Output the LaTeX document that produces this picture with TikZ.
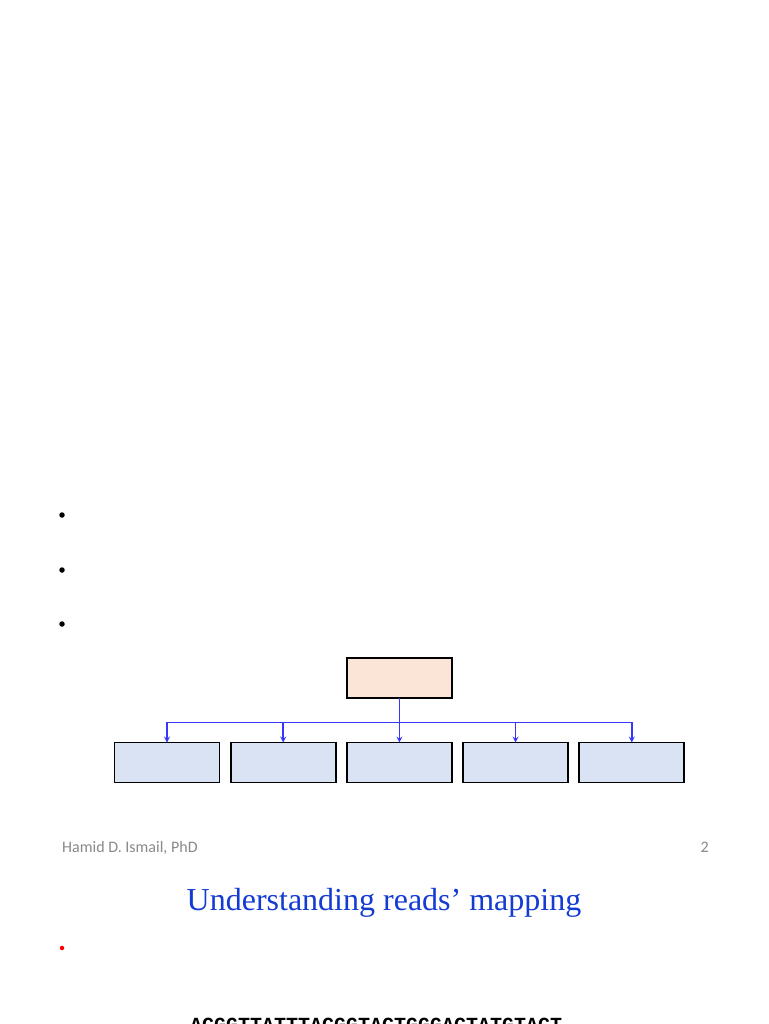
\documentclass[tikz,border=0pt]{standalone}
\usepackage{fontspec}
\setmainfont{Liberation Serif}
\newfontfamily\footfont{Carlito}
\newfontfamily\seqfont{Liberation Mono}
\usepackage{tikz}
\usetikzlibrary{positioning}

\definecolor{topfill}{RGB}{251,229,214}
\definecolor{subfill}{RGB}{218,227,243}
\definecolor{linkblue}{RGB}{55,55,250}
\definecolor{titleblue}{RGB}{20,60,210}
\definecolor{footgray}{RGB}{137,137,137}

\begin{document}
\begin{tikzpicture}[x=1pt,y=-1pt,node distance=10pt,>=stealth]
	\tikzstyle{box}=[rectangle,draw=black,line width=1.7pt,minimum width=105pt,minimum height=40pt,inner sep=0pt,outer sep=0pt]
	\tikzstyle{link}=[draw=linkblue,line width=1.6pt]
	\tikzstyle{dot}=[circle,fill=black,inner sep=0pt,minimum size=5.5pt]
	\useasboundingbox (0,0) rectangle (768,1024);
	\fill[white] (0,0) rectangle (768,1024);

	\node[dot] (d1) at (62,515) {};
	\node[dot] (d2) at (62,570) {};
	\node[dot] (d3) at (62,624) {};

	\node[box,fill=subfill,anchor=north west] (b1) at (114.5,742.5) {};
	\node[box,fill=subfill] (b2) [right=11.2pt of b1] {};
	\node[box,fill=subfill] (b3) [right=11.2pt of b2] {};
	\node[box,fill=subfill] (b4) [right=11.2pt of b3] {};
	\node[box,fill=subfill] (b5) [right=11.2pt of b4] {};
	\node[box,fill=topfill] (top) [above=44.5pt of b3] {};

	\path (top.south) -- (b3.north) coordinate[pos=0.55] (junc);
	\draw[link,->] (top.south) -- (b3.north);
	\draw[link] (junc -| b1.north) -- (junc -| b5.north);
	\foreach \i in {1,2,4,5}
		\draw[link,->] (junc -| b\i.north) -- (b\i.north);

	\node[text=footgray,font=\footfont\fontsize{16}{19}\selectfont,anchor=base west,inner sep=0pt] (author) at (62,852) {Hamid D. Ismail, PhD};
	\node[text=footgray,font=\footfont\fontsize{16}{19}\selectfont,anchor=base east,inner sep=0pt] (pagenum) at (709,852) {2};

	\node[text=titleblue,font=\fontsize{32}{38}\selectfont,anchor=base,inner sep=0pt] (title) at (384,910) {Understanding reads’ mapping};
	\node[dot,fill=red,minimum size=4.5pt] (rd) at (62,948) {};

	\node[font=\seqfont\bfseries\fontsize{20}{24}\selectfont,anchor=base west,inner sep=0pt] (seq) at (190,1031) {ACGGTTATTTACGGTACTGGGACTATGTACT};
\end{tikzpicture}
\end{document}
